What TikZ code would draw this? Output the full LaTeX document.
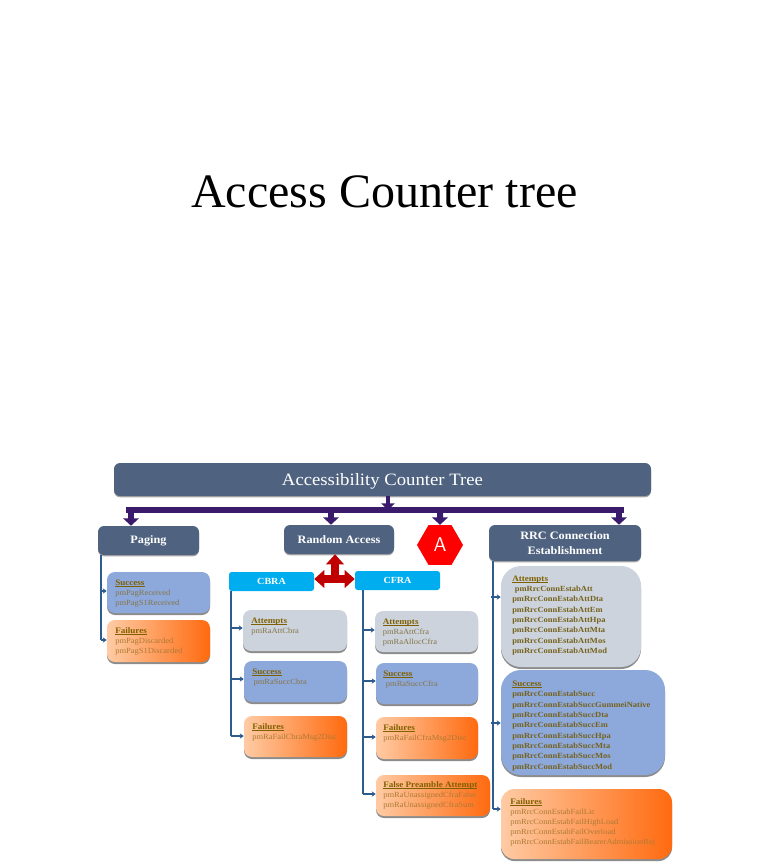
\documentclass[tikz,border=0pt]{standalone}
\usepackage{fontspec}
\setmainfont{Liberation Serif}
\newfontfamily\wideserif[FakeStretch=1.08]{Liberation Serif}
\usetikzlibrary{arrows.meta,shapes.geometric,shadows}
\definecolor{slate}{HTML}{4F6280}
\definecolor{purplebar}{HTML}{3A1A6B}
\definecolor{spine}{HTML}{2F5C8F}
\definecolor{skyb}{HTML}{00AEEF}
\definecolor{redarr}{HTML}{C00000}
\definecolor{greyb}{HTML}{CCD3DD}
\definecolor{blueb}{HTML}{8DA8DB}
\definecolor{orL}{HTML}{FFCBA4}
\definecolor{orR}{HTML}{FF6A0F}
\definecolor{headc}{HTML}{7F6000}
\definecolor{bodyc}{HTML}{857546}
\definecolor{boldc}{HTML}{75621C}
\definecolor{failc}{HTML}{AD7A34}
\tikzset{
  px/.style={x=0.75pt,y=-0.75pt},
  header/.style={draw=none,fill=slate,rounded corners=4.5pt,text=white,align=center,inner sep=0pt,font=\wideserif\bfseries\fontsize{8.5}{11}\selectfont,
    drop shadow={shadow xshift=0pt,shadow yshift=-1pt,fill=black!35,opacity=1}},
  tag/.style={fill=skyb,rounded corners=2pt,text=white,inner sep=0pt,font=\wideserif\bfseries\fontsize{7}{9}\selectfont},
  card/.style={draw=none,inner sep=0pt,drop shadow={shadow xshift=0pt,shadow yshift=-1.5pt,fill=black!45,opacity=1}},
  grey/.style={card,fill=greyb,rounded corners=6pt},
  blue/.style={card,fill=blueb,rounded corners=6pt},
  orange/.style={card,left color=orL,right color=orR,rounded corners=6pt},
  bigrey/.style={card,fill=greyb,rounded corners=15pt},
  bigblue/.style={card,fill=blueb,rounded corners=15pt},
  bigorange/.style={card,left color=orL,right color=orR,rounded corners=10pt},
  txt/.style={anchor=north west,inner sep=0pt,align=left,font=\wideserif\fontsize{5.9}{7.5}\selectfont,text=bodyc},
  boldtxt/.style={txt,font=\wideserif\bfseries\fontsize{5.9}{7.75}\selectfont,text=boldc},
  bustip/.style={purplebar,line width=4.5pt,-{Triangle[width=11.5pt,length=5.5pt]}},
  redtip/.style={redarr,line width=6.5pt,{Triangle[width=13pt,length=7.5pt]}-{Triangle[width=13pt,length=7.5pt]}},
  redup/.style={redarr,line width=6.5pt,-{Triangle[width=13pt,length=7.5pt]}},
  spineline/.style={spine,line width=1pt},
  stub/.style={spine,line width=1.7pt,-{Stealth[width=4pt,length=3pt]}},
}
\newsavebox\hdbox
\newcommand{\hd}[1]{{\bfseries\color{headc}\fontsize{6.3}{7.5}\selectfont\sbox\hdbox{#1}\rlap{\rule[-0.8pt]{\wd\hdbox}{0.4pt}}\usebox\hdbox}}
\newcommand{\pxbox}[6]{%
  \pgfmathsetmacro\bxw{(#4-#2)*0.75}\pgfmathsetmacro\bxh{(#5-#3)*0.75}%
  \node[#1,minimum width=\bxw pt,minimum height=\bxh pt] (#6) at ({(#2+#4)/2},{(#3+#5)/2})}
\begin{document}
\begin{tikzpicture}[px]
\useasboundingbox (0,0) rectangle (768,866);
\node[inner sep=0pt,font=\fontsize{36}{40}\selectfont] (title) at (384.5,192) {Access Counter tree};

\pxbox{header,font=\wideserif\fontsize{13}{14}\selectfont,text=white}{114}{463}{651}{496}{top} {\raisebox{-4.5pt}[0pt][0pt]{Accessibility Counter Tree}};
\pxbox{header}{98}{526}{199}{555}{paging} {Paging};
\pxbox{header}{284}{525}{394}{554}{ra} {Random Access};
\pxbox{header}{489}{525}{641}{561}{rrc} {RRC Connection\\Establishment};
\node[regular polygon,regular polygon sides=6,fill=red,text=white,inner sep=0pt,minimum size=34.5pt,font=\sffamily\fontsize{15}{15}\selectfont] (hexa) at (440,545) {A};
\pxbox{tag}{229}{572}{314}{591}{cbra} {CBRA};
\pxbox{tag}{355}{571}{440}{590}{cfra} {CFRA};

% bus
\coordinate (busl) at (126,510);
\coordinate (busr) at (624,510);
\coordinate (b0) at (388,510);
\coordinate (b1) at (131,510);
\coordinate (b2) at (331,510);
\coordinate (b3) at (440,510);
\coordinate (b4) at (619,510);
\draw[purplebar,line width=5pt] (busl) -- (busr);
\draw[purplebar,line width=3.6pt,-{Triangle[width=10pt,length=5pt]}] (top.south -| b0) -- (b0);
\draw[bustip] (b1) -- (b1 |- paging.north);
\draw[bustip] (b2) -- (b2 |- ra.north);
\draw[bustip] (b3) -- (hexa.north);
\draw[bustip] (b4) -- (b4 |- rrc.north);

% red arrows
\coordinate (rc) at (335,579);
\draw[redtip] (cbra.east |- rc) -- (cfra.west |- rc);
\draw[redup] (rc) -- (rc |- ra.south);

% cards
\pxbox{blue}{107}{572}{210}{613}{pgs} {};
\pxbox{orange}{107}{620}{210}{662}{pgf} {};
\pxbox{grey}{243}{610}{347}{651}{cba} {};
\pxbox{blue}{244}{661}{347}{702}{cbs} {};
\pxbox{orange}{244}{716}{347}{757}{cbf} {};
\pxbox{grey}{375}{611}{478}{652}{cfa} {};
\pxbox{blue}{376}{663}{478}{704}{cfs} {};
\pxbox{orange}{376}{717}{478}{759}{cff} {};
\pxbox{orange}{376}{775}{490}{816}{cfp} {};
\pxbox{bigrey}{501}{566}{641}{667}{rra} {};
\pxbox{bigblue}{501}{670}{665}{775}{rrs} {};
\pxbox{bigorange}{501}{789}{672}{859}{rrf} {};

% spines
\coordinate (sp1) at (101,555);
\coordinate (sp1e) at (101,640);
\coordinate (sp2) at (231,591);
\coordinate (sp2e) at (231,736);
\coordinate (sp3) at (363,590);
\coordinate (sp3e) at (363,794);
\coordinate (sp4) at (493,561);
\coordinate (sp4e) at (493,809);
\draw[spineline] (sp1) -- (sp1e);
\draw[spineline] (sp2) -- (sp2e);
\draw[spineline] (sp3) -- (sp3e);
\draw[spineline] (sp4) -- (sp4e);
\draw[stub] (101,591) -- (pgs.west |- 0,591);
\draw[stub] (sp1e) -- (pgf.west |- sp1e);
\draw[stub] (231,628) -- (cba.west |- 0,628);
\draw[stub] (231,679) -- (cbs.west |- 0,679);
\draw[stub] (sp2e) -- (cbf.west |- sp2e);
\draw[stub] (363,630) -- (cfa.west |- 0,630);
\draw[stub] (363,681) -- (cfs.west |- 0,681);
\draw[stub] (363,737) -- (cff.west |- 0,737);
\draw[stub] (sp3e) -- (cfp.west |- sp3e);
\draw[stub] (491,597) -- (rra.west |- 0,597);
\draw[stub] (491,723) -- (rrs.west |- 0,723);
\draw[stub] (sp4e) -- (rrf.west |- sp4e);

% card texts
\node[txt] (t1) at (115,579.5) {\hd{Success}\\pmPagReceived\\pmPagS1Received};
\node[txt,text=failc] (t2) at (115,627.5) {\hd{Failures}\\pmPagDiscarded\\pmPagS1Discarded};
\node[txt] (t3) at (251,617.5) {\hd{Attempts}\\pmRaAttCbra};
\node[txt] (t4) at (252,668.5) {\hd{Success}\\\hspace{1pt}pmRaSuccCbra};
\node[txt,text=failc] (t5) at (252,723) {\hd{Failures}\\pmRaFailCbraMsg2Disc};
\node[txt] (t6) at (382.5,618.5) {\hd{Attempts}\\pmRaAttCfra\\pmRaAllocCfra};
\node[txt] (t7) at (383,670.5) {\hd{Success}\\\hspace{2pt}pmRaSuccCfra};
\node[txt,text=failc] (t8) at (383,724.5) {\hd{Failures}\\pmRaFailCfraMsg2Disc};
\node[txt,text=failc] (t9) at (383,781.5) {\hd{False Preamble Attempt}\\pmRaUnassignedCfraFalse\\pmRaUnassignedCfraSum};
\node[boldtxt] (t10) at (512,575.5) {\hd{Attempts}\\\hspace{2pt}pmRrcConnEstabAtt\\pmRrcConnEstabAttDta\\pmRrcConnEstabAttEm\\pmRrcConnEstabAttHpa\\pmRrcConnEstabAttMta\\pmRrcConnEstabAttMos\\pmRrcConnEstabAttMod};
\node[boldtxt] (t11) at (512,680.5) {\hd{Success}\\pmRrcConnEstabSucc\\pmRrcConnEstabSuccGummeiNative\\pmRrcConnEstabSuccDta\\pmRrcConnEstabSuccEm\\pmRrcConnEstabSuccHpa\\pmRrcConnEstabSuccMta\\pmRrcConnEstabSuccMos\\pmRrcConnEstabSuccMod};
\node[txt,text=failc] (t12) at (510,798.5) {\hd{Failures}\\pmRrcConnEstabFailLic\\pmRrcConnEstabFailHighLoad\\pmRrcConnEstabFailOverload\\pmRrcConnEstabFailBearerAdmissionRej};
\end{tikzpicture}
\end{document}
